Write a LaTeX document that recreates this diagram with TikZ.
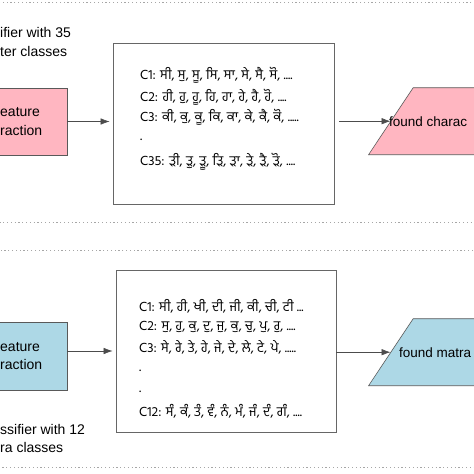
\documentclass[tikz,border=0pt]{standalone}
\usepackage{fontspec}
\setmainfont{Liberation Sans}
\newfontfamily\gurmukhifont[Script=Gurmukhi]{Hind Jalandhar}
\usetikzlibrary{arrows.meta}
\usetikzlibrary{shapes.geometric}
\definecolor{featpink}{RGB}{255,182,193}
\definecolor{featblue}{RGB}{173,216,230}
\tikzset{x=1pt, y=-1pt,
    panel/.style={
        draw=gray!70,
        line width=0.9pt,
        dash pattern=on 1.2pt off 2.6pt},
    featbox/.style={
        draw=black!65,
        semithick,
        minimum width=110pt,
        minimum height=67pt},
    classbox/.style={
        draw=black!60,
        thick,
        fill=white},
    found/.style={
        trapezium,
        draw=black!65,
        semithick,
        trapezium left angle=63.8,
        trapezium right angle=116.2,
        trapezium stretches=true,
        minimum height=67pt,
        minimum width=180pt,
        anchor=bottom left corner},
    title/.style={
        anchor=west,
        align=left,
        inner sep=0pt,
        font=\fontsize{14}{18.5}\selectfont},
    classes/.style={
        anchor=west,
        inner sep=0pt,
        font=\gurmukhifont\fontsize{13.5}{15}\selectfont},
    every edge/.style={
        draw,
        -{Latex[length=9pt,width=6.5pt]},
        black!70,
        semithick}}

\begin{document}
\begin{tikzpicture}
    \useasboundingbox (0,0) rectangle (474,474);
    \clip (0,0) rectangle (474,474);
    % character classifier
    \draw[panel] (-20,2) rectangle (494,222);
    \node[title] (title1) at (0,42) {ifier with 35\\ter classes};
    \node[featbox, fill=featpink] (feat1) at (12,121.5) {};
    \node[title] (feat1 text) at (0,121.5) {eature\\raction};
    \node[classbox, minimum width=221pt, minimum height=161pt] (cls1) at (223.5,123.5) {};
    \node[classes] (c1) at (140,75) {C1: ਸੀ, ਸੁ, ਸੂ, ਸਿ, ਸਾ, ਸੇ, ਸੈ, ਸੋ, ....};
    \node[classes] (c2) at (140,97) {C2: ਹੀ, ਹੁ, ਹੂ, ਹਿ, ਹਾ, ਹੇ, ਹੈ, ਹੋ, ....};
    \node[classes] (c3) at (140,117) {C3: ਕੀ, ਕੁ, ਕੂ, ਕਿ, ਕਾ, ਕੇ, ਕੈ, ਕੋ, .....};
    \node[classes] (c4) at (140,140) {.};
    \node[classes] (c35) at (140,162) {C35: ੜੀ, ੜੁ, ੜੂ, ੜਿ, ੜਾ, ੜੇ, ੜੈ, ੜੋ, ....};
    \node[found, fill=featpink] (found1) at (368,155) {};
    \node[title, font=\fontsize{13.5}{16}\selectfont] (found1 text) at (389,121.5) {found charac};
    \draw (feat1.east) edge[shorten >=3pt] (cls1.west |- feat1.east);
    \draw (cls1.east |- found1.west) edge[shorten <=5pt] (found1.west);
    % matra classifier
    \draw[panel] (-20,250) rectangle (494,467);
    \node[title] (title2) at (0,438.5) {ssifier with 12\\ra classes};
    \node[featbox, fill=featblue, minimum height=68pt] (feat2) at (12,356) {};
    \node[title] (feat2 text) at (0,356) {eature\\raction};
    \node[classbox, minimum width=220pt, minimum height=162pt] (cls2) at (226,351) {};
    \node[classes] (m1) at (139,306) {C1: ਸੀ, ਹੀ, ਖੀ, ਦੀ, ਜੀ, ਕੀ, ਚੀ, ਟੀ ...};
    \node[classes] (m2) at (139,327) {C2: ਸੁ, ਹੁ, ਕੁ, ਦੁ, ਜੁ, ਕੁ, ਚੁ, ਪੁ, ਰੁ, ....};
    \node[classes] (m3) at (139,347) {C3: ਸੇ, ਰੇ, ਤੇ, ਹੇ, ਜੇ, ਦੇ, ਲੇ, ਟੇ, ਪੇ, .....};
    \node[classes] (m4) at (139,371) {.};
    \node[classes] (m5) at (139,392) {.};
    \node[classes] (m12) at (139,411) {C12: ਸੰ, ਕੰ, ਤੰ, ਵੰ, ਨੰ, ਮੰ, ਜੰ, ਦੰ, ਗੰ, ....};
    \node[found, fill=featblue] (found2) at (368,386) {};
    \node[title, font=\fontsize{13.5}{16}\selectfont] (found2 text) at (399,353) {found matra};
    \draw (feat2.east |- cls2.west) edge[shorten >=3pt] (cls2.west);
    \draw (cls2.east |- found2.west) edge (found2.west);
\end{tikzpicture}
\end{document}
